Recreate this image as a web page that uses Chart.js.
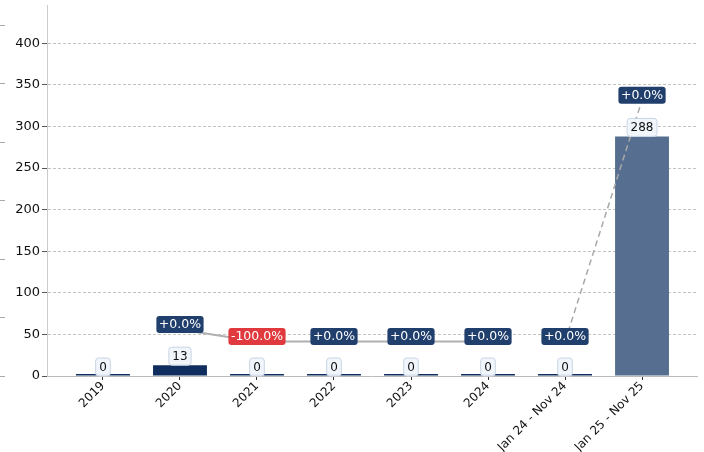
<!DOCTYPE html>
<html>
<head>
<meta charset="utf-8">
<script src="https://cdn.jsdelivr.net/npm/chart.js@4.4.1/dist/chart.umd.min.js"></script>
<style>
  html, body { margin: 0; padding: 0; background: #fff; }
  #wrap { width: 704px; height: 452px; }
</style>
</head>
<body>
<div id="wrap"><canvas id="myChart"></canvas></div>
<script>
const categories = ["2019", "2020", "2021", "2022", "2023", "2024", "Jan 24 - Nov 24", "Jan 25 - Nov 25"];
const counts = [0, 13, 0, 0, 0, 0, 0, 288];
const growthLabels = [null, "+0.0%", "-100.0%", "+0.0%", "+0.0%", "+0.0%", "+0.0%", "+0.0%"];
const trendSolid = [null, 15.9, 11.8, 11.8, 11.8, 11.8, null, null];
const trendDashed = [null, null, null, null, null, null, 11.8, 94.4];
const yTicks = [0, 50, 100, 150, 200, 250, 300, 350, 400];

const DARK = "#0f2d5e";
const LIGHT = "#566e8f";
const barColors = counts.map((v, i) => (i === counts.length - 1 ? LIGHT : DARK));
const FONT = "DejaVu Sans";

const toPoints = (arr) => arr.map((v, i) => ({ x: i, y: v }));

function roundBox(c, x, y, w, h, r) {
  c.beginPath();
  c.moveTo(x + r, y);
  c.lineTo(x + w - r, y);
  c.quadraticCurveTo(x + w, y, x + w, y + r);
  c.lineTo(x + w, y + h - r);
  c.quadraticCurveTo(x + w, y + h, x + w - r, y + h);
  c.lineTo(x + r, y + h);
  c.quadraticCurveTo(x, y + h, x, y + h - r);
  c.lineTo(x, y + r);
  c.quadraticCurveTo(x, y, x + r, y);
  c.closePath();
}

const labelPlugin = {
  id: "labels",
  afterDatasetsDraw(chart) {
    const c = chart.ctx;
    const xs = chart.scales.x, ys = chart.scales.y, y2 = chart.scales.y2;
    c.save();
    c.font = "12px '" + FONT + "'";
    c.textAlign = "center";
    c.textBaseline = "middle";

    // value boxes above bars
    counts.forEach((v, i) => {
      const x = xs.getPixelForValue(i);
      const top = ys.getPixelForValue(v);
      const txt = String(v);
      const w = c.measureText(txt).width + 7;
      const h = 18;
      roundBox(c, x - w / 2, top - h, w, h, 3);
      c.fillStyle = "rgba(240,246,252,0.95)";
      c.fill();
      c.strokeStyle = "#c9d5e4";
      c.lineWidth = 1;
      c.stroke();
      c.fillStyle = "#111";
      c.fillText(txt, x, top - h / 2 + 0.5);
    });

    // growth boxes on the trend line
    c.font = "12.5px '" + FONT + "'";
    growthLabels.forEach((t, i) => {
      if (t === null) return;
      const val = trendSolid[i] !== null ? trendSolid[i] : trendDashed[i];
      const x = xs.getPixelForValue(i);
      const y = y2.getPixelForValue(val) - 5;
      const w = c.measureText(t).width + 5;
      const h = 17;
      roundBox(c, x - w / 2, y - h / 2, w, h, 3);
      c.fillStyle = t.startsWith("-") ? "#e03a3e" : "#213f6d";
      c.fill();
      c.fillStyle = "#fff";
      c.fillText(t, x, y + 0.5);
    });
    c.restore();
  },
};

const ctx = document.getElementById("myChart");

const config = {
  type: "bar",
  data: {
    datasets: [
      {
        type: "bar",
        data: toPoints(counts),
        backgroundColor: barColors,
        categoryPercentage: 1,
        barPercentage: 0.7,
        minBarLength: 2,
        yAxisID: "y",
        order: 2,
      },
      {
        type: "line",
        data: toPoints(trendSolid),
        borderColor: "#b0b0b0",
        borderWidth: 2,
        pointRadius: 0,
        spanGaps: false,
        yAxisID: "y2",
        order: 1,
      },
      {
        type: "line",
        data: toPoints(trendDashed),
        borderColor: "#a8a8a8",
        borderWidth: 1.5,
        borderDash: [6, 4],
        pointRadius: 0,
        spanGaps: false,
        yAxisID: "y2",
        order: 1,
      },
    ],
  },
  options: {
    responsive: true,
    maintainAspectRatio: false,
    animation: false,
    layout: { padding: { top: 0, right: 7, left: 0, bottom: 0 } },
    plugins: { legend: { display: false }, tooltip: { enabled: false } },
    scales: {
      x: {
        type: "linear",
        offset: false,
        min: -0.727,
        max: 7.714,
        afterBuildTicks: (s) => { s.ticks = categories.map((_, i) => ({ value: i })); },
        afterFit: (s) => { s.height = 76; },
        ticks: {
          autoSkip: false,
          maxRotation: 45,
          minRotation: 45,
          padding: -1,
          color: "#111",
          font: { family: FONT, size: 12 },
          callback: (v) => categories[v],
        },
        grid: { offset: false, drawOnChartArea: false, tickLength: 4, tickColor: "#333" },
        border: { color: "#bbbbbb", width: 1 },
      },
      y: {
        position: "left",
        weight: 0,
        min: 0,
        max: 446,
        afterBuildTicks: (s) => { s.ticks = yTicks.map((v) => ({ value: v })); },
        afterFit: (s) => { s.width = 42; s.paddingTop = 5; },
        ticks: { color: "#111", padding: 2, font: { family: FONT, size: 13 } },
        grid: { color: "#c4c4c4", tickColor: "#555", tickLength: 5 },
        border: { color: "#cccccc", width: 1, dash: [3, 2] },
      },
      y2: {
        position: "left",
        weight: 5,
        min: 0,
        max: 127,
        afterBuildTicks: (s) => { s.ticks = [0, 20, 40, 60, 80, 100, 120].map((v) => ({ value: v })); },
        afterFit: (s) => { s.width = 5; s.paddingTop = 5; },
        ticks: { display: false },
        grid: { drawOnChartArea: false, tickColor: "#aaa", tickLength: 5 },
        border: { display: false },
      },
    },
  },
  plugins: [labelPlugin],
};

const myChart = new Chart(ctx, config);
</script>
</body>
</html>
